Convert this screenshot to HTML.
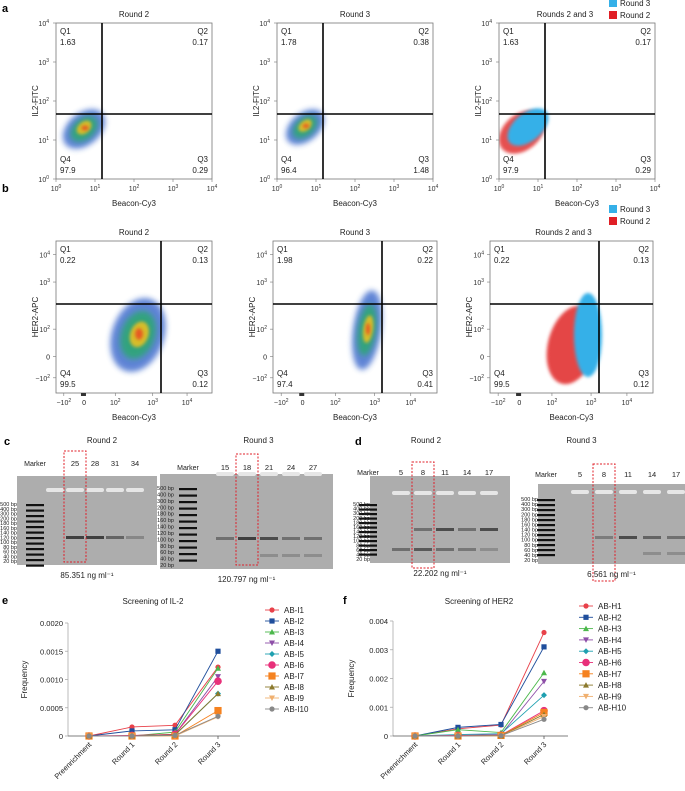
<!DOCTYPE html>
<html><head><meta charset="utf-8"><style>
body{margin:0;background:#fff;}
svg{display:block;font-family:"Liberation Sans",sans-serif;}
</style></head><body>
<svg id="fig" width="685" height="791" viewBox="0 0 685 791" xmlns="http://www.w3.org/2000/svg">
<defs>
<filter id="bl" x="-50%" y="-50%" width="200%" height="200%"><feGaussianBlur stdDeviation="3"/></filter>
<filter id="bl2" x="-50%" y="-50%" width="200%" height="200%"><feGaussianBlur stdDeviation="1.5"/></filter>
</defs>
<g id="root"></g>
</svg>
<script>
// ---------- chart data (panels e and f) ----------
const catsE = ["Preenrichment","Round 1","Round 2","Round 3"];
const namesE = ["AB-I1","AB-I2","AB-I3","AB-I4","AB-I5","AB-I6","AB-I7","AB-I8","AB-I9","AB-I10"];
const valsE1 = [0,0.00016,0.00019,0.00122];
const valsE2 = [0,0.00009,0.00011,0.0015];
const valsE3 = [0,0,0.00007,0.0012];
const valsE4 = [0,0,0.00003,0.00105];
const valsE5 = [0,0,0.00002,0.00075];
const valsE6 = [0,0.00001,0.00003,0.00097];
const valsE7 = [0,0,0,0.00045];
const valsE8 = [0,0,0.00002,0.00075];
const valsE9 = [0,0,0,0.00034];
const valsE10 = [0,0,0.00001,0.00035];
const ticksE = [0,0.0005,0.001,0.0015,0.002];
const tickLabelsE = ["0","0.0005","0.0010","0.0015","0.0020"];
const namesF = ["AB-H1","AB-H2","AB-H3","AB-H4","AB-H5","AB-H6","AB-H7","AB-H8","AB-H9","AB-H10"];
const valsF1 = [0,0.00025,0.00038,0.0036];
const valsF2 = [0,0.0003,0.0004,0.0031];
const valsF3 = [0,0.00022,0.00012,0.0022];
const valsF4 = [0,0.00002,0.00005,0.0019];
const valsF5 = [0,0.00005,0.00008,0.00142];
const valsF6 = [0,0.00002,0.00003,0.00088];
const valsF7 = [0,0,0.00002,0.00082];
const valsF8 = [0,0,0.00001,0.00075];
const valsF9 = [0,0,0,0.00068];
const valsF10 = [0,0,0.00001,0.00058];
const ticksF = [0,0.001,0.002,0.003,0.004];
const tickLabelsF = ["0","0.001","0.002","0.003","0.004"];

const colors=["#e8414a","#1f4e9c","#4cb84c","#8e4fa8","#1fa0b0","#e8307a","#f58220","#8c7a2e","#f0b070","#888888"];
const markers=["circle","square","tri","tridown","diamond","bigcircle","bigsquare","tri","tridown","circle"];

const NS="http://www.w3.org/2000/svg";
const root=document.getElementById('root');
function el(tag,attrs,parent){const e=document.createElementNS(NS,tag);for(const k in attrs)e.setAttribute(k,attrs[k]);(parent||root).appendChild(e);return e;}
function txt(x,y,s,size,parent,anchor,extra){const t=el('text',Object.assign({x:x,y:y,'font-size':size,'text-anchor':anchor||'start',fill:'#222'},extra||{}),parent);t.textContent=s;return t;}
function pow(x,y,base,exp,parent,anchor){const t=el('text',{x:x,y:y,'font-size':7,'text-anchor':anchor||'middle',fill:'#333'},parent);t.textContent=base;const ts=el('tspan',{dy:-3,'font-size':5},t);ts.textContent=exp;return t;}

// panel letters
[["a",2,12],["b",2,192],["c",4,445],["d",355,445],["e",2,604],["f",343,604]].forEach(p=>{
 const t=txt(p[1],p[2],p[0],11,root,'start',{'font-weight':'bold',fill:'#000'});
 
 
});

// ---------- flow plots ----------
function flowPlot(o){
 const g=el('g',{});
 
 
 const {x0,y0,x1,y1,vx,hy}=o;
 const clipId='c'+o.name;
 const cp=el('clipPath',{id:clipId},g);el('rect',{x:x0,y:y0,width:x1-x0,height:y1-y0},cp);
 const blobs=el('g',{'clip-path':'url(#'+clipId+')'},g);
 o.blobs(blobs);
 el('rect',{x:x0,y:y0,width:x1-x0,height:y1-y0,fill:'none',stroke:'#777','stroke-width':0.8},g);
 el('line',{x1:vx,y1:y0,x2:vx,y2:y1,stroke:'#000','stroke-width':1.6},g);
 el('line',{x1:x0,y1:hy,x2:x1,y2:hy,stroke:'#000','stroke-width':1.6},g);
 txt((x0+x1)/2+(o.tdx||0),y0-6,o.title,8,g,'middle');
 txt(x0+4,y0+11,'Q1',8,g);txt(x0+4,y0+22,o.q[0],8,g);
 txt(x1-4,y0+11,'Q2',8,g,'end');txt(x1-4,y0+22,o.q[1],8,g,'end');
 txt(x0+4,y1-17,'Q4',8,g);txt(x0+4,y1-6,o.q[3],8,g);
 txt(x1-4,y1-17,'Q3',8,g,'end');txt(x1-4,y1-6,o.q[2],8,g,'end');
 const yl=txt(0,0,o.ylab,8,g,'middle');yl.setAttribute('transform',`translate(${x0-18},${(y0+y1)/2}) rotate(-90)`);
 txt((x0+x1)/2,y1+27,'Beacon-Cy3',8,g,'middle');
 o.ticks(g);
 return g;
}
function logTicks(g,x0,y0,x1,y1){
 for(let i=0;i<5;i++){const x=x0+(x1-x0)*i/4;el('line',{x1:x,y1:y1,x2:x,y2:y1+3,stroke:'#777','stroke-width':0.6},g);pow(x,y1+12,'10',String(i),g);
  const y=y1-(y1-y0)*i/4;el('line',{x1:x0-3,y1:y,x2:x0,y2:y,stroke:'#777','stroke-width':0.6},g);pow(x0-7,y+3,'10',String(i),g,'end');}
}
function biexTicks(g,x0,y0,x1,y1){
 const xs=[[0.05,'−10','2'],[0.18,'0',''],[0.38,'10','2'],[0.62,'10','3'],[0.84,'10','4']];
 xs.forEach(t=>{const x=x0+(x1-x0)*t[0];el('line',{x1:x,y1:y1,x2:x,y2:y1+3,stroke:'#777','stroke-width':0.6},g);t[2]?pow(x,y1+12,t[1],t[2],g):txt(x,y1+12,t[1],7,g,'middle');});
 el('rect',{x:x0+(x1-x0)*0.16,y:y1,width:5,height:3,fill:'#333'},g);
 const ys=[[0.1,'−10','2'],[0.24,'0',''],[0.42,'10','2'],[0.73,'10','3'],[0.91,'10','4']];
 ys.forEach(t=>{const y=y1-(y1-y0)*t[0];el('line',{x1:x0-3,y1:y,x2:x0,y2:y,stroke:'#777','stroke-width':0.6},g);t[2]?pow(x0-6,y+3,t[1],t[2],g,'end'):txt(x0-6,y+3,t[1],7,g,'end');});
}
function heat(p,cx,cy,rx,ry,rot){
 el('ellipse',{cx:cx,cy:cy,rx:rx,ry:ry,fill:'#2a5cc8',opacity:0.75,filter:'url(#bl)',transform:`rotate(${rot} ${cx} ${cy})`},p);
 el('ellipse',{cx:cx,cy:cy,rx:rx*0.65,ry:ry*0.65,fill:'#2aa870',opacity:0.85,filter:'url(#bl)',transform:`rotate(${rot} ${cx} ${cy})`},p);
 el('ellipse',{cx:cx+1,cy:cy-1,rx:rx*0.35,ry:ry*0.35,fill:'#e8c020',opacity:0.9,filter:'url(#bl2)',transform:`rotate(${rot} ${cx} ${cy})`},p);
 el('ellipse',{cx:cx+1,cy:cy-1,rx:rx*0.15,ry:ry*0.15,fill:'#e85020',opacity:0.9,filter:'url(#bl2)'},p);
}
// panel a
flowPlot({name:'flow-a-round2',x0:56,y0:23,x1:212,y1:179,vx:102,hy:114,title:'Round 2',q:['1.63','0.17','0.29','97.9'],ylab:'IL2-FITC',
 blobs:p=>heat(p,84,129,24,16,-40),ticks:g=>logTicks(g,56,23,212,179)});
flowPlot({name:'flow-a-round3',x0:277,y0:23,x1:433,y1:179,vx:323,hy:114,title:'Round 3',q:['1.78','0.38','1.48','96.4'],ylab:'IL2-FITC',
 blobs:p=>heat(p,305,127,22,14,-40),ticks:g=>logTicks(g,277,23,433,179)});
flowPlot({name:'flow-a-overlay',x0:499,y0:23,x1:655,y1:179,vx:545,hy:114,title:'Rounds 2 and 3',tdx:-12,q:['1.63','0.17','0.29','97.9'],ylab:'IL2-FITC',
 blobs:p=>{el('ellipse',{cx:522,cy:132,rx:26,ry:18,fill:'#e23030',opacity:0.85,filter:'url(#bl2)',transform:'rotate(-40 522 132)'},p);
  el('ellipse',{cx:528,cy:127,rx:24,ry:14,fill:'#35b0e8',filter:'url(#bl2)',transform:'rotate(-40 528 127)'},p);},
 ticks:g=>logTicks(g,499,23,655,179)});
// panel b
flowPlot({name:'flow-b-round2',x0:56,y0:241,x1:212,y1:393,vx:161,hy:304,title:'Round 2',q:['0.22','0.13','0.12','99.5'],ylab:'HER2-APC',
 blobs:p=>heat(p,138,335,26,38,20),ticks:g=>biexTicks(g,56,241,212,393)});
flowPlot({name:'flow-b-round3',x0:273,y0:241,x1:437,y1:393,vx:382,hy:304,title:'Round 3',q:['1.98','0.22','0.41','97.4'],ylab:'HER2-APC',
 blobs:p=>heat(p,367,330,14,40,8),ticks:g=>biexTicks(g,273,241,437,393)});
flowPlot({name:'flow-b-overlay',x0:490,y0:241,x1:653,y1:393,vx:599,hy:304,title:'Rounds 2 and 3',tdx:-8,q:['0.22','0.13','0.12','99.5'],ylab:'HER2-APC',
 blobs:p=>{el('ellipse',{cx:572,cy:345,rx:24,ry:40,fill:'#e23030',opacity:0.9,filter:'url(#bl2)',transform:'rotate(15 572 345)'},p);
  el('ellipse',{cx:588,cy:335,rx:14,ry:42,fill:'#35b0e8',filter:'url(#bl2)'},p);},
 ticks:g=>biexTicks(g,490,241,653,393)});
// overlay legends
[[5,'#35b0e8','Round 3'],[17,'#e01f26','Round 2'],[211,'#35b0e8','Round 3'],[223,'#e01f26','Round 2']].forEach((l,i)=>{
 const g=el('g',{});
 el('rect',{x:609,y:l[0]-6,width:8,height:8,fill:l[1]},g);txt(620,l[0]+1,l[2],8,g);
});

// ---------- gels ----------
function gel(o){
 const g=el('g',{});
 
 
 el('rect',{x:o.x,y:o.y,width:o.w,height:o.h,fill:'#adadad'},g);
 txt(o.x+o.w/2+o.tdx,443,o.title,8,g,'middle');
 txt(o.mx,o.ly,'Marker',7,g,'middle');
 o.lanes.forEach((ln,i)=>{
  const cx=o.lx0+i*o.ls;
  txt(cx,o.ly,ln,7.5,g,'middle');
  el('rect',{x:cx-9,y:o.y+o.wy,width:18,height:4,rx:2,fill:'#e6e6e6'},g);
  if(o.band[i]>0) el('rect',{x:cx-9,y:o.y+o.by,width:18,height:3,fill:'#333',opacity:o.band[i]},g);
  if(o.band2 && o.band2[i]>0) el('rect',{x:cx-9,y:o.y+o.by2,width:18,height:3,fill:'#444',opacity:o.band2[i]},g);
 });
 for(let k=0;k<12;k++){el('rect',{x:o.mx-9,y:o.y+o.my0+k*o.mstep,width:18,height:2.2,fill:'#111'},g);}
 const bps=['500 bp','400 bp','300 bp','200 bp','180 bp','160 bp','140 bp','120 bp','100 bp','80 bp','60 bp','40 bp','20 bp'];
 const lstep=(o.h-o.my0-4)/12;
 bps.forEach((b,k)=>txt(o.bx,o.y+o.my0+2+k*lstep,b,5.5,g,'end'));
 const sel=o.lx0+o.sel*o.ls;
 el('rect',{x:sel-11,y:o.sy,width:22,height:o.sh,fill:'none',stroke:'#e0202a','stroke-width':1,'stroke-dasharray':'2,1.5'},g);
 txt(o.x+o.w/2,o.y+o.h+13,o.conc,8,g,'middle');
 return g;
}
gel({name:'gel-c-round2',x:17,y:476,w:140,h:89,title:'Round 2',tdx:15,mx:35,ly:466,lanes:['','25','28','31','34'],lx0:55,ls:20,sel:1,
 band:[0,0.9,0.9,0.6,0.3],by:60,wy:12,my0:28,mstep:5.5,bx:17,sy:451,sh:111,conc:'85.351 ng ml⁻¹'});
gel({name:'gel-c-round3',x:160,y:474,w:173,h:95,title:'Round 3',tdx:12,mx:188,ly:470,lanes:['15','18','21','24','27'],lx0:225,ls:22,sel:1,
 band:[0.5,0.9,0.8,0.5,0.5],by:63,band2:[0,0,0.3,0.3,0.3],by2:80,wy:-2,my0:14,mstep:6.5,bx:174,sy:454,sh:111,conc:'120.797 ng ml⁻¹'});
gel({name:'gel-d-round2',x:370,y:476,w:140,h:87,title:'Round 2',tdx:-14,mx:368,ly:475,lanes:['5','8','11','14','17'],lx0:401,ls:22,sel:1,
 band:[0,0.5,0.8,0.5,0.8],by:52,band2:[0.6,0.8,0.6,0.5,0.3],by2:72,wy:15,my0:28,mstep:4.5,bx:370,sy:462,sh:106,conc:'22.202 ng ml⁻¹'});
gel({name:'gel-d-round3',x:538,y:484,w:147,h:80,title:'Round 3',tdx:-30,mx:546,ly:477,lanes:['5','8','11','14','17'],lx0:580,ls:24,sel:1,
 band:[0,0.4,0.8,0.6,0.5],by:52,band2:[0,0,0,0.3,0.3],by2:68,wy:6,my0:15,mstep:5,bx:538,sy:464,sh:117,conc:'6.561 ng ml⁻¹'});

// ---------- line charts ----------
function marker(g,type,x,y,c){
 let m;
 if(type==='circle')m=el('circle',{cx:x,cy:y,r:2.6,fill:c},g);
 else if(type==='bigcircle')m=el('circle',{cx:x,cy:y,r:3.8,fill:c},g);
 else if(type==='square')m=el('rect',{x:x-2.6,y:y-2.6,width:5.2,height:5.2,fill:c},g);
 else if(type==='bigsquare')m=el('rect',{x:x-3.6,y:y-3.6,width:7.2,height:7.2,fill:c},g);
 else if(type==='tri')m=el('polygon',{points:`${x},${y-3} ${x-3},${y+2.5} ${x+3},${y+2.5}`,fill:c},g);
 else if(type==='tridown')m=el('polygon',{points:`${x},${y+3} ${x-3},${y-2.5} ${x+3},${y-2.5}`,fill:c},g);
 else m=el('polygon',{points:`${x},${y-3} ${x+3},${y} ${x},${y+3} ${x-3},${y}`,fill:c},g);
 return m;
}
function lineChart(o){
 const g=el('g',{});
 
 
 const ymax=o.ticks[o.ticks.length-1];
 const yS=v=>o.oy-(o.oy-o.ty)*v/ymax;
 const xS=i=>o.cx0+i*o.cs;
 txt(o.tx,604,o.title,8,g,'middle');
 el('line',{x1:o.ox,y1:o.ty,x2:o.ox,y2:o.oy,stroke:'#aaa','stroke-width':0.8},g);
 el('line',{x1:o.ox,y1:o.oy,x2:o.xend,y2:o.oy,stroke:'#555','stroke-width':0.8},g);
 o.ticks.forEach((t,i)=>{const y=yS(t);el('line',{x1:o.ox-3,y1:y,x2:o.ox,y2:y,stroke:'#aaa','stroke-width':0.8},g);txt(o.ox-5,y+3,o.tickLabels[i],7.5,g,'end');});
 o.cats.forEach((c,i)=>{const x=xS(i);el('line',{x1:x,y1:o.oy,x2:x,y2:o.oy+3,stroke:'#555','stroke-width':0.8},g);
  const t=txt(0,0,c,7.5,g,'end');t.setAttribute('transform',`translate(${x+3},${o.oy+9}) rotate(-45)`);});
 const yl=txt(0,0,'Frequency',8,g,'middle');yl.setAttribute('transform',`translate(${o.ylx},${(o.ty+o.oy)/2}) rotate(-90)`);
 o.series.forEach((s,k)=>{
  const sg=el('g',{},g);
  
  
  el('polyline',{points:s.map((v,i)=>xS(i)+','+yS(v)).join(' '),fill:'none',stroke:colors[k],'stroke-width':0.9},sg);
  s.forEach((v,i)=>marker(sg,markers[k],xS(i),yS(v),colors[k]));
  const lg=el('g',{},g);
  
  
  const ly=o.ly0+k*o.lstep;
  el('line',{x1:o.lx,y1:ly,x2:o.lx+14,y2:ly,stroke:colors[k],'stroke-width':0.9},lg);
  marker(lg,markers[k],o.lx+7,ly,colors[k]);
  txt(o.lx+19,ly+3,o.names[k],8,lg);
 });
}
lineChart({name:'chart-e-il2',title:'Screening of IL-2',tx:153,ox:68,oy:736,ty:623,xend:240,cx0:89,cs:43,ylx:27,
 cats:catsE,names:namesE,ticks:ticksE,tickLabels:tickLabelsE,lx:265,ly0:610,lstep:11,
 series:[valsE1,valsE2,valsE3,valsE4,valsE5,valsE6,valsE7,valsE8,valsE9,valsE10]});
lineChart({name:'chart-f-her2',title:'Screening of HER2',tx:479,ox:393,oy:736,ty:621,xend:568,cx0:415,cs:43,ylx:354,
 cats:catsE,names:namesF,ticks:ticksF,tickLabels:tickLabelsF,lx:579,ly0:606,lstep:11.3,
 series:[valsF1,valsF2,valsF3,valsF4,valsF5,valsF6,valsF7,valsF8,valsF9,valsF10]});
</script>
</body></html>
